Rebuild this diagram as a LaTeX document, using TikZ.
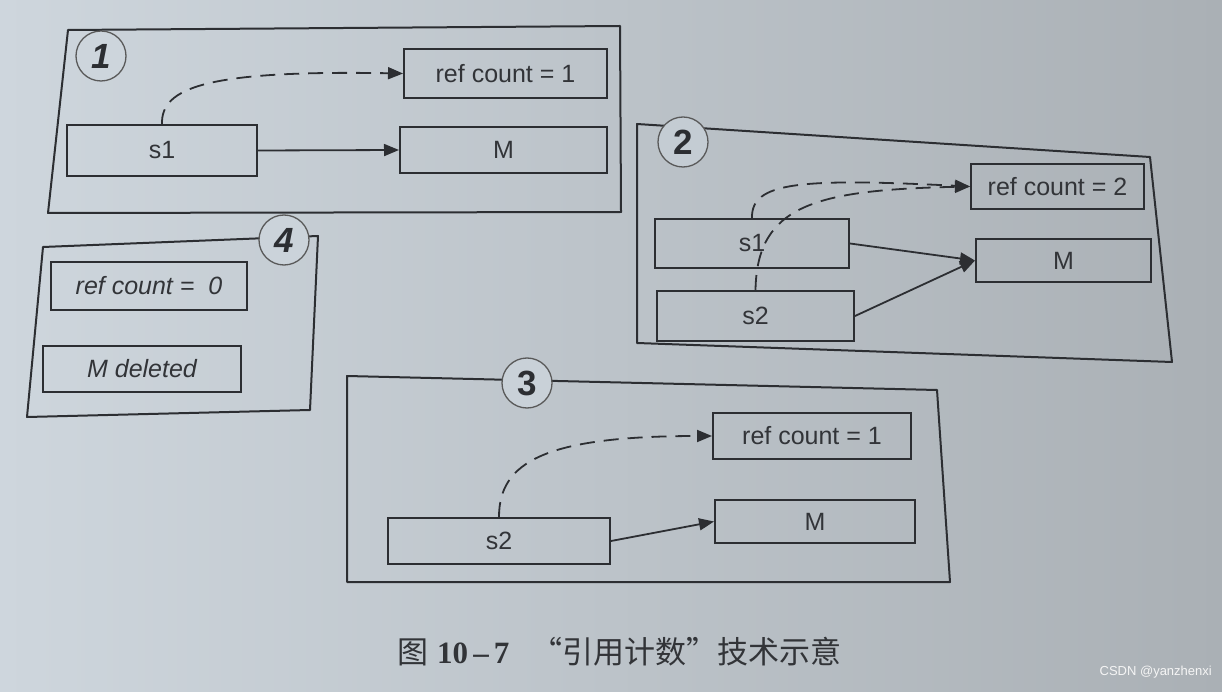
\documentclass[tikz,border=0pt]{standalone}
\usepackage{fontspec}
\setmainfont{Liberation Sans}
\newfontfamily\cjk{Noto Sans CJK SC}
\newfontfamily\capnum{Liberation Serif}
\usetikzlibrary{arrows.meta}
\definecolor{bgL}{RGB}{206,214,221}
\definecolor{bgM}{RGB}{200,208,215}
\definecolor{bgR}{RGB}{170,176,181}
\definecolor{ink}{RGB}{44,46,50}
\definecolor{txt}{RGB}{50,52,56}
\colorlet{fillA}{bgM!17!bgL}
\colorlet{fillD}{bgM!46!bgL}
\colorlet{fillC}{bgM!86!bgL}
\colorlet{fillB}{bgR!12!bgM}
\begin{document}
\begin{tikzpicture}[x=1pt,y=-1pt,
  box/.style={draw=ink,line width=2pt,rectangle,inner sep=0pt,anchor=north west,
    text=txt,font=\fontsize{25}{28}\selectfont},
  panel/.style={draw=ink,line width=2pt,line join=round},
  numc/.style={circle,draw=gray!70!black,line width=1.3pt,minimum size=50pt,inner sep=0pt,
    text=ink,font=\fontsize{35}{35}\selectfont\bfseries},
  arr/.style={draw=ink,line width=1.8pt,-{Triangle[length=15pt,width=12pt]}},
  darr/.style={arr,dash pattern=on 15pt off 9pt}]
\shade[left color=bgL,middle color=bgM,right color=bgR] (0,0) rectangle (1222,692);
\useasboundingbox (0,0) rectangle (1222,692);

% ---------- panel 1 ----------
\draw[panel] (68,30) -- (620,26) -- (621,212) -- (48,213) -- cycle;
\node[numc,fill=fillA] (c1) at (101,56) {\itshape 1};
\node[box,minimum width=203pt,minimum height=49pt] (r1) at (403,48) {ref count = 1};
\node[box,minimum width=207pt,minimum height=46pt] (m1) at (399,126) {M};
\node[box,minimum width=190pt,minimum height=51pt] (s1a) at (66,124) {s1};
\draw[darr] (s1a.north) .. controls (161,88) and (205,70) .. (r1.west);
\draw[arr] (s1a.east) -- (m1.west);

% ---------- panel 2 ----------
\draw[panel] (637,124) -- (1150,157) -- (1172,362) -- (637,343) -- cycle;
\node[numc,fill=fillB] (c2) at (683,142) {2};
\node[box,minimum width=173pt,minimum height=45pt] (r2) at (970,163) {ref count = 2};
\node[box,minimum width=175pt,minimum height=43pt] (m2) at (975,238) {M};
\node[box,minimum width=194pt,minimum height=49pt] (s1b) at (654,218) {s1};
\node[box,minimum width=197pt,minimum height=50pt] (s2b) at (656,290) {s2};
\draw[darr] (s1b.north) .. controls (751,182) and (800,178) .. (r2.west);
\draw[darr] (s2b.north) .. controls (757,205) and (815,190) .. (r2.west);
\draw[arr] (s1b.east) -- (m2.west);
\draw[arr] (s2b.east) -- (m2.west);

% ---------- panel 4 ----------
\draw[panel] (43,247) -- (318,236) -- (310,410) -- (27,417) -- cycle;
\node[numc,fill=fillD] (c4) at (284,240) {\itshape 4};
\node[box,minimum width=196pt,minimum height=48pt,font=\fontsize{25}{28}\selectfont\itshape] (r4) at (50,261) {ref count =\ \ 0};
\node[box,minimum width=198pt,minimum height=46pt,font=\fontsize{25}{28}\selectfont\itshape] (m4) at (42,345) {M deleted};

% ---------- panel 3 ----------
\draw[panel] (347,376) -- (937,390) -- (950,582) -- (347,582) -- cycle;
\node[numc,fill=fillC] (c3) at (527,383) {3};
\node[box,minimum width=198pt,minimum height=46pt] (r3) at (712,412) {ref count = 1};
\node[box,minimum width=200pt,minimum height=43pt] (m3) at (714,499) {M};
\node[box,minimum width=222pt,minimum height=46pt] (s2c) at (387,517) {s2};
\draw[darr] (s2c.north) .. controls (499,462) and (545,436) .. (r3.west);
\draw[arr] (s2c.east) -- (m3.west);

% ---------- caption ----------
\node[text=txt,anchor=west] (cap) at (394,652)
  {\fontsize{31}{31}\selectfont{\cjk 图}\ {\capnum\bfseries 10\,–\,7}\hspace{0.7em}{\cjk “引用计数”技术示意}};
\node[anchor=east,text=white!92!gray,inner sep=0pt] (wm) at (1212,672)
  {\fontsize{13}{13}\selectfont CSDN @yanzhenxi};
\end{tikzpicture}
\end{document}
